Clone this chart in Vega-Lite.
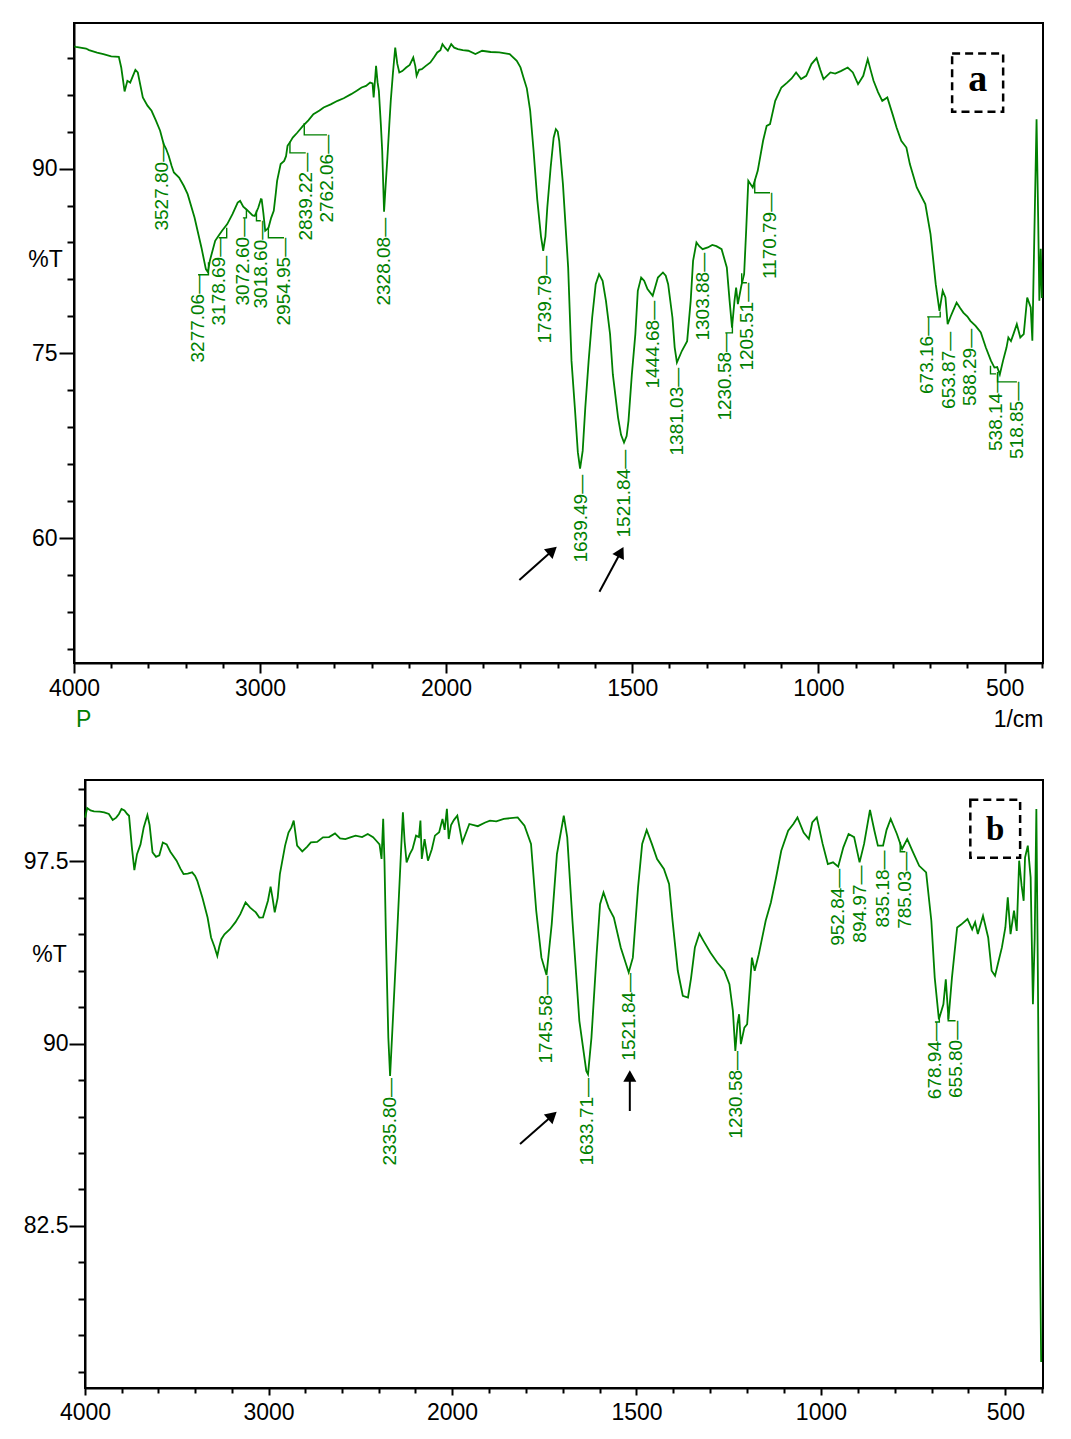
{
  "$schema": "https://vega.github.io/schema/vega-lite/v6.json",
  "padding": {"left": 22, "top": 22, "right": 5, "bottom": 5},
  "spacing": 43,
  "config": {
    "view": {"stroke": "black", "strokeWidth": 2},
    "font": "Liberation Sans",
    "axis": {
      "grid": false,
      "domainColor": "black", "domainWidth": 2,
      "tickColor": "black", "tickWidth": 2, "tickCount": 200,
      "labelColor": "black", "labelFont": "Liberation Sans", "labelFontSize": 23,
      "titleColor": "black", "titleFont": "Liberation Sans", "titleFontSize": 23, "titleFontWeight": "normal",
      "labelOverlap": false, "labelFlush": false, "labelBound": false
    }
  },
  "datasets": {
    "specA": [
      {"wn":3998,"t":99.9},{"wn":3990,"t":99.87},{"wn":3935,"t":99.73},{"wn":3919,"t":99.6},{"wn":3876,"t":99.4},{"wn":3842,"t":99.28},{"wn":3800,"t":99.1},{"wn":3759,"t":99.06},{"wn":3746,"t":98.19},{"wn":3728,"t":96.25},{"wn":3713,"t":97.11},{"wn":3698,"t":96.97},{"wn":3670,"t":98.0},{"wn":3657,"t":97.79},{"wn":3630,"t":95.76},{"wn":3605,"t":95.1},{"wn":3583,"t":94.68},{"wn":3560,"t":93.9},{"wn":3537,"t":93.06},{"wn":3518,"t":91.98},{"wn":3505,"t":91.6},{"wn":3491,"t":91.03},{"wn":3475,"t":90.2},{"wn":3463,"t":89.68},{"wn":3435,"t":89.27},{"wn":3410,"t":88.6},{"wn":3389,"t":87.92},{"wn":3352,"t":86.03},{"wn":3315,"t":83.6},{"wn":3291,"t":81.84},{"wn":3280,"t":81.6},{"wn":3270,"t":82.5},{"wn":3241,"t":84.14},{"wn":3220,"t":84.6},{"wn":3204,"t":84.95},{"wn":3176,"t":85.49},{"wn":3148,"t":86.3},{"wn":3120,"t":87.24},{"wn":3107,"t":87.38},{"wn":3090,"t":86.9},{"wn":3074,"t":86.7},{"wn":3055,"t":86.43},{"wn":3040,"t":86.2},{"wn":3028,"t":86.16},{"wn":3009,"t":86.84},{"wn":2995,"t":87.52},{"wn":2991,"t":87.5},{"wn":2982,"t":86.4},{"wn":2972,"t":84.95},{"wn":2960,"t":85.1},{"wn":2954,"t":85.21},{"wn":2940,"t":86.0},{"wn":2926,"t":86.57},{"wn":2915,"t":88.0},{"wn":2908,"t":89.0},{"wn":2889,"t":90.36},{"wn":2870,"t":90.62},{"wn":2860,"t":91.0},{"wn":2852,"t":91.84},{"wn":2840,"t":92.1},{"wn":2824,"t":92.51},{"wn":2800,"t":92.9},{"wn":2769,"t":93.46},{"wn":2740,"t":93.9},{"wn":2713,"t":94.41},{"wn":2680,"t":94.7},{"wn":2658,"t":94.95},{"wn":2620,"t":95.2},{"wn":2583,"t":95.49},{"wn":2550,"t":95.7},{"wn":2510,"t":96.03},{"wn":2480,"t":96.3},{"wn":2454,"t":96.57},{"wn":2430,"t":96.7},{"wn":2408,"t":96.97},{"wn":2395,"t":96.9},{"wn":2389,"t":95.76},{"wn":2380,"t":97.5},{"wn":2376,"t":98.33},{"wn":2368,"t":97.0},{"wn":2361,"t":96.3},{"wn":2350,"t":93.5},{"wn":2343,"t":91.44},{"wn":2333,"t":86.5},{"wn":2325,"t":88.5},{"wn":2315,"t":90.89},{"wn":2305,"t":93.5},{"wn":2297,"t":95.49},{"wn":2285,"t":97.8},{"wn":2273,"t":99.81},{"wn":2262,"t":98.5},{"wn":2251,"t":97.79},{"wn":2235,"t":97.9},{"wn":2214,"t":98.19},{"wn":2195,"t":98.4},{"wn":2176,"t":99.0},{"wn":2165,"t":98.3},{"wn":2158,"t":97.52},{"wn":2145,"t":98.0},{"wn":2130,"t":98.06},{"wn":2110,"t":98.3},{"wn":2084,"t":98.6},{"wn":2065,"t":99.0},{"wn":2047,"t":99.41},{"wn":2030,"t":99.6},{"wn":2019,"t":100.09},{"wn":2005,"t":99.8},{"wn":1995,"t":99.55},{"wn":1986,"t":100.09},{"wn":1978,"t":99.8},{"wn":1968,"t":99.68},{"wn":1955,"t":99.6},{"wn":1940,"t":99.55},{"wn":1921,"t":99.28},{"wn":1903,"t":99.55},{"wn":1880,"t":99.45},{"wn":1857,"t":99.41},{"wn":1829,"t":99.28},{"wn":1810,"t":98.73},{"wn":1800,"t":98.2},{"wn":1792,"t":97.38},{"wn":1783,"t":96.5},{"wn":1774,"t":94.7},{"wn":1765,"t":91.5},{"wn":1755,"t":87.5},{"wn":1745,"t":84.5},{"wn":1739,"t":83.33},{"wn":1733,"t":84.5},{"wn":1728,"t":86.84},{"wn":1719,"t":90.08},{"wn":1711,"t":92.5},{"wn":1705,"t":93.19},{"wn":1700,"t":93.0},{"wn":1696,"t":92.25},{"wn":1686,"t":88.73},{"wn":1672,"t":81.97},{"wn":1663,"t":74.4},{"wn":1654,"t":70.6},{"wn":1646,"t":67.0},{"wn":1640,"t":65.67},{"wn":1633,"t":67.1},{"wn":1626,"t":70.6},{"wn":1617,"t":74.4},{"wn":1607.5,"t":77.92},{"wn":1598,"t":80.62},{"wn":1589,"t":81.43},{"wn":1579.5,"t":80.89},{"wn":1570.5,"t":79.27},{"wn":1559.5,"t":76.57},{"wn":1552,"t":73.3},{"wn":1538,"t":69.8},{"wn":1530,"t":68.4},{"wn":1522,"t":67.78},{"wn":1515,"t":68.3},{"wn":1510,"t":69.54},{"wn":1501,"t":73.3},{"wn":1491.6,"t":76.57},{"wn":1485,"t":80.08},{"wn":1476,"t":81.16},{"wn":1468,"t":80.9},{"wn":1459,"t":80.22},{"wn":1445,"t":79.68},{"wn":1431,"t":81.16},{"wn":1417.5,"t":81.57},{"wn":1410,"t":81.3},{"wn":1403.5,"t":80.62},{"wn":1392,"t":77.92},{"wn":1386,"t":75.5},{"wn":1380,"t":74.27},{"wn":1366.5,"t":75.22},{"wn":1352.5,"t":76.0},{"wn":1343,"t":79.27},{"wn":1336.6,"t":82.51},{"wn":1327.5,"t":84.0},{"wn":1320,"t":83.7},{"wn":1311,"t":83.46},{"wn":1297,"t":83.6},{"wn":1285,"t":83.8},{"wn":1274,"t":83.7},{"wn":1260,"t":83.46},{"wn":1246,"t":81.97},{"wn":1238.5,"t":79.27},{"wn":1232,"t":77.1},{"wn":1225.4,"t":79.27},{"wn":1221,"t":80.35},{"wn":1216.3,"t":79.0},{"wn":1207,"t":80.49},{"wn":1199.5,"t":81.43},{"wn":1194,"t":85.0},{"wn":1188.3,"t":89.0},{"wn":1176.4,"t":88.46},{"wn":1163,"t":89.81},{"wn":1148.6,"t":92.25},{"wn":1139,"t":93.46},{"wn":1130,"t":93.6},{"wn":1116,"t":95.49},{"wn":1099.4,"t":96.57},{"wn":1084,"t":96.97},{"wn":1072,"t":97.3},{"wn":1060,"t":97.79},{"wn":1046.5,"t":97.25},{"wn":1032.7,"t":97.52},{"wn":1018.8,"t":98.47},{"wn":1005,"t":98.95},{"wn":995,"t":98.0},{"wn":986.3,"t":97.25},{"wn":967.8,"t":97.79},{"wn":955,"t":97.7},{"wn":940,"t":97.9},{"wn":921.3,"t":98.19},{"wn":907.6,"t":97.79},{"wn":893.6,"t":96.84},{"wn":879.6,"t":97.52},{"wn":867.6,"t":98.87},{"wn":860,"t":98.0},{"wn":852,"t":97.11},{"wn":840,"t":96.2},{"wn":828.6,"t":95.49},{"wn":815,"t":95.76},{"wn":801,"t":94.41},{"wn":790,"t":93.3},{"wn":777.6,"t":92.25},{"wn":763.8,"t":91.7},{"wn":754.5,"t":90.36},{"wn":736,"t":88.46},{"wn":713,"t":87.11},{"wn":699,"t":84.68},{"wn":685,"t":80.62},{"wn":675,"t":78.46},{"wn":666.3,"t":80.08},{"wn":659,"t":79.54},{"wn":653,"t":77.38},{"wn":645,"t":78.0},{"wn":638.6,"t":78.46},{"wn":629,"t":79.13},{"wn":620,"t":78.7},{"wn":611,"t":78.32},{"wn":600,"t":78.0},{"wn":592,"t":77.65},{"wn":578,"t":77.24},{"wn":564,"t":76.7},{"wn":550.5,"t":75.48},{"wn":536.6,"t":74.4},{"wn":527.4,"t":73.86},{"wn":520,"t":73.9},{"wn":513,"t":73.3},{"wn":504.4,"t":74.4},{"wn":495,"t":75.48},{"wn":490,"t":76.3},{"wn":483,"t":76.0},{"wn":476.4,"t":76.57},{"wn":467.3,"t":77.38},{"wn":458,"t":76.3},{"wn":448.7,"t":76.57},{"wn":439.4,"t":79.54},{"wn":430,"t":78.73},{"wn":425.6,"t":76.03},{"wn":420,"t":85.0},{"wn":414.3,"t":94.0},{"wn":410,"t":86.0},{"wn":406.8,"t":79.27},{"wn":403,"t":83.5},{"wn":400,"t":79.5}
    ],
    "specB": [
      {"wn":3999,"t":99.3},{"wn":3995,"t":99.46},{"wn":3988,"t":99.7},{"wn":3970,"t":99.6},{"wn":3951,"t":99.56},{"wn":3920,"t":99.55},{"wn":3895,"t":99.52},{"wn":3870,"t":99.45},{"wn":3849,"t":99.2},{"wn":3830,"t":99.3},{"wn":3815,"t":99.45},{"wn":3801,"t":99.66},{"wn":3785,"t":99.6},{"wn":3770,"t":99.45},{"wn":3760,"t":99.38},{"wn":3744.6,"t":98.08},{"wn":3731,"t":97.14},{"wn":3716.6,"t":97.8},{"wn":3697.5,"t":98.2},{"wn":3680,"t":98.9},{"wn":3660,"t":99.41},{"wn":3648,"t":99.0},{"wn":3632,"t":97.87},{"wn":3613,"t":97.69},{"wn":3595,"t":97.75},{"wn":3576,"t":98.28},{"wn":3555,"t":98.2},{"wn":3535,"t":97.9},{"wn":3501,"t":97.53},{"wn":3480,"t":97.2},{"wn":3463,"t":96.98},{"wn":3440,"t":97.0},{"wn":3416,"t":97.05},{"wn":3400,"t":96.9},{"wn":3388,"t":96.7},{"wn":3360,"t":96.0},{"wn":3332,"t":95.19},{"wn":3313,"t":94.37},{"wn":3295,"t":94.0},{"wn":3279,"t":93.61},{"wn":3268,"t":94.0},{"wn":3257,"t":94.3},{"wn":3240,"t":94.5},{"wn":3210,"t":94.71},{"wn":3180,"t":95.0},{"wn":3153.6,"t":95.33},{"wn":3125,"t":95.81},{"wn":3100,"t":95.6},{"wn":3069,"t":95.4},{"wn":3050,"t":95.19},{"wn":3030,"t":95.2},{"wn":3003,"t":95.88},{"wn":2988.6,"t":96.46},{"wn":2978,"t":96.0},{"wn":2966,"t":95.4},{"wn":2950,"t":96.0},{"wn":2938,"t":96.98},{"wn":2909.6,"t":98.15},{"wn":2891,"t":98.69},{"wn":2875,"t":98.9},{"wn":2862.6,"t":99.18},{"wn":2844,"t":98.15},{"wn":2816,"t":97.91},{"wn":2790,"t":98.1},{"wn":2769,"t":98.28},{"wn":2735,"t":98.3},{"wn":2703,"t":98.49},{"wn":2670,"t":98.5},{"wn":2637.6,"t":98.65},{"wn":2610,"t":98.45},{"wn":2581,"t":98.42},{"wn":2550,"t":98.5},{"wn":2525,"t":98.56},{"wn":2490,"t":98.5},{"wn":2459,"t":98.63},{"wn":2430,"t":98.5},{"wn":2412.5,"t":98.35},{"wn":2395,"t":98.2},{"wn":2384,"t":97.6},{"wn":2375,"t":99.25},{"wn":2368,"t":97.5},{"wn":2360,"t":94.37},{"wn":2347,"t":90.25},{"wn":2337.4,"t":88.67},{"wn":2318,"t":91.62},{"wn":2300,"t":94.37},{"wn":2281,"t":97.39},{"wn":2267.6,"t":99.52},{"wn":2258,"t":98.3},{"wn":2247.4,"t":97.46},{"wn":2230,"t":97.8},{"wn":2215,"t":98.01},{"wn":2196,"t":98.56},{"wn":2180,"t":98.5},{"wn":2172,"t":99.18},{"wn":2164.6,"t":97.6},{"wn":2149.4,"t":98.42},{"wn":2131,"t":97.53},{"wn":2110,"t":98.0},{"wn":2093,"t":98.56},{"wn":2070,"t":98.7},{"wn":2051.8,"t":99.25},{"wn":2040,"t":98.8},{"wn":2027.8,"t":99.66},{"wn":2018,"t":98.42},{"wn":2005,"t":99.0},{"wn":1995,"t":99.2},{"wn":1985.6,"t":99.38},{"wn":1972,"t":98.28},{"wn":1953,"t":99.04},{"wn":1930,"t":98.95},{"wn":1910,"t":99.1},{"wn":1897,"t":99.18},{"wn":1880,"t":99.15},{"wn":1859.5,"t":99.25},{"wn":1822,"t":99.31},{"wn":1803.5,"t":98.97},{"wn":1785.8,"t":98.22},{"wn":1771.7,"t":95.47},{"wn":1757.6,"t":93.54},{"wn":1743.8,"t":92.83},{"wn":1729.7,"t":94.92},{"wn":1715.6,"t":97.8},{"wn":1697,"t":99.38},{"wn":1687.6,"t":98.49},{"wn":1673.5,"t":95.06},{"wn":1654.8,"t":90.94},{"wn":1636,"t":88.88},{"wn":1631.3,"t":88.74},{"wn":1622,"t":90.25},{"wn":1608,"t":93.68},{"wn":1598.7,"t":95.74},{"wn":1589.3,"t":96.22},{"wn":1575.4,"t":95.6},{"wn":1561.3,"t":95.19},{"wn":1542.6,"t":93.96},{"wn":1521,"t":92.93},{"wn":1509.8,"t":93.54},{"wn":1495.7,"t":96.43},{"wn":1484.5,"t":98.22},{"wn":1472.3,"t":98.79},{"wn":1458.3,"t":98.22},{"wn":1444.1,"t":97.6},{"wn":1425.6,"t":97.19},{"wn":1411.6,"t":96.57},{"wn":1402.2,"t":95.06},{"wn":1388,"t":93.0},{"wn":1374.4,"t":91.97},{"wn":1360.3,"t":91.9},{"wn":1352,"t":92.7},{"wn":1341.6,"t":93.96},{"wn":1329.4,"t":94.53},{"wn":1318.3,"t":94.23},{"wn":1299.7,"t":93.75},{"wn":1281,"t":93.34},{"wn":1262,"t":93.0},{"wn":1248,"t":92.45},{"wn":1238.6,"t":91.35},{"wn":1232,"t":89.7},{"wn":1226.2,"t":90.8},{"wn":1221.8,"t":91.21},{"wn":1217,"t":89.98},{"wn":1207.5,"t":90.66},{"wn":1200,"t":90.8},{"wn":1187,"t":93.54},{"wn":1179.5,"t":93.0},{"wn":1168.4,"t":93.68},{"wn":1149.7,"t":95.06},{"wn":1135.6,"t":95.81},{"wn":1121.5,"t":96.84},{"wn":1107.5,"t":97.94},{"wn":1088.8,"t":98.76},{"wn":1074.7,"t":99.04},{"wn":1063.6,"t":99.31},{"wn":1046.8,"t":98.69},{"wn":1032.7,"t":98.42},{"wn":1023.4,"t":99.1},{"wn":1011.2,"t":99.31},{"wn":995.3,"t":98.22},{"wn":981.2,"t":97.39},{"wn":967.2,"t":97.46},{"wn":953.2,"t":97.28},{"wn":939.2,"t":98.08},{"wn":925,"t":98.63},{"wn":910,"t":98.5},{"wn":895.2,"t":97.46},{"wn":883,"t":98.22},{"wn":867,"t":99.62},{"wn":855,"t":98.76},{"wn":845.6,"t":98.15},{"wn":831.5,"t":98.15},{"wn":822,"t":98.8},{"wn":810.9,"t":99.25},{"wn":794,"t":98.63},{"wn":780,"t":98.01},{"wn":766,"t":98.42},{"wn":752.3,"t":97.94},{"wn":733.6,"t":97.32},{"wn":714.8,"t":97.05},{"wn":700.7,"t":95.06},{"wn":691.5,"t":92.72},{"wn":680.2,"t":91.0},{"wn":668,"t":91.62},{"wn":661.5,"t":92.65},{"wn":654.2,"t":91.0},{"wn":644.8,"t":92.72},{"wn":630.7,"t":94.78},{"wn":620,"t":94.9},{"wn":602.7,"t":95.13},{"wn":590,"t":94.7},{"wn":582,"t":95.0},{"wn":574.6,"t":94.51},{"wn":560.6,"t":95.26},{"wn":546.6,"t":94.37},{"wn":537.2,"t":93.0},{"wn":528,"t":92.79},{"wn":520,"t":93.3},{"wn":509.4,"t":93.96},{"wn":500,"t":94.78},{"wn":493.5,"t":96.02},{"wn":486,"t":94.51},{"wn":476.6,"t":95.47},{"wn":469.2,"t":94.64},{"wn":462.6,"t":97.53},{"wn":456,"t":96.5},{"wn":450.4,"t":95.88},{"wn":446.7,"t":97.66},{"wn":439.2,"t":98.15},{"wn":431.5,"t":96.84},{"wn":425.3,"t":91.62},{"wn":420.5,"t":94.37},{"wn":416,"t":99.66},{"wn":412,"t":93.0},{"wn":408,"t":85.0},{"wn":405,"t":80.0},{"wn":403,"t":76.9}
    ],
    "peaksA": [
      {"label":"3527.80","lx":3527,"ly":92.08},{"label":"3277.06","lx":3333,"ly":81.38},{"label":"3178.69","lx":3222,"ly":84.38},{"label":"3072.60","lx":3092,"ly":86.0},{"label":"3018.60","lx":2996,"ly":85.76},{"label":"2954.95","lx":2871,"ly":84.38},{"label":"2839.22","lx":2754,"ly":91.27},{"label":"2762.06","lx":2640,"ly":92.73},{"label":"2328.08","lx":2333,"ly":86.0},{"label":"1739.79","lx":1733,"ly":82.92},{"label":"1639.49","lx":1637,"ly":65.16},{"label":"1521.84","lx":1522,"ly":67.19},{"label":"1444.68","lx":1445,"ly":79.27},{"label":"1381.03","lx":1380,"ly":73.84},{"label":"1303.88","lx":1311,"ly":83.16},{"label":"1230.58","lx":1250,"ly":76.67},{"label":"1205.51","lx":1192,"ly":80.73},{"label":"1170.79","lx":1130,"ly":88.03},{"label":"673.16","lx":708,"ly":77.97},{"label":"653.87","lx":649,"ly":76.76},{"label":"588.29","lx":592,"ly":77.0},{"label":"538.14","lx":523,"ly":73.35},{"label":"518.85","lx":467,"ly":72.7}
    ],
    "hooksA": [
      {"id":"3277.06","o":1,"wn":3333,"t":81.38},{"id":"3277.06","o":2,"wn":3277,"t":81.38},{"id":"3277.06","o":3,"wn":3277,"t":82.4},
      {"id":"3178.69","o":1,"wn":3222,"t":84.38},{"id":"3178.69","o":2,"wn":3179,"t":84.38},{"id":"3178.69","o":3,"wn":3179,"t":85.2},
      {"id":"3072.60","o":1,"wn":3092,"t":86.0},{"id":"3072.60","o":2,"wn":3073,"t":86.0},{"id":"3072.60","o":3,"wn":3073,"t":86.7},
      {"id":"3018.60","o":1,"wn":2996,"t":85.76},{"id":"3018.60","o":2,"wn":3019,"t":85.76},{"id":"3018.60","o":3,"wn":3019,"t":86.6},
      {"id":"2954.95","o":1,"wn":2871,"t":84.38},{"id":"2954.95","o":2,"wn":2955,"t":84.38},{"id":"2954.95","o":3,"wn":2955,"t":85.2},
      {"id":"2839.22","o":1,"wn":2754,"t":91.27},{"id":"2839.22","o":2,"wn":2839,"t":91.27},{"id":"2839.22","o":3,"wn":2839,"t":92.2},
      {"id":"2762.06","o":1,"wn":2640,"t":92.73},{"id":"2762.06","o":2,"wn":2762,"t":92.73},{"id":"2762.06","o":3,"wn":2762,"t":93.7},
      {"id":"1230.58","o":1,"wn":1250,"t":76.67},{"id":"1230.58","o":2,"wn":1231,"t":76.67},{"id":"1230.58","o":3,"wn":1231,"t":77.3},
      {"id":"1205.51","o":1,"wn":1192,"t":80.73},{"id":"1205.51","o":2,"wn":1206,"t":80.73},{"id":"1205.51","o":3,"wn":1206,"t":81.5},
      {"id":"1170.79","o":1,"wn":1130,"t":88.03},{"id":"1170.79","o":2,"wn":1171,"t":88.03},{"id":"1170.79","o":3,"wn":1171,"t":89.1},
      {"id":"673.16","o":1,"wn":708,"t":77.97},{"id":"673.16","o":2,"wn":673,"t":77.97},{"id":"673.16","o":3,"wn":673,"t":78.4},
      {"id":"538.14","o":1,"wn":523,"t":73.35},{"id":"538.14","o":2,"wn":538,"t":73.35},{"id":"538.14","o":3,"wn":538,"t":74.0},
      {"id":"518.85","o":1,"wn":467,"t":72.7},{"id":"518.85","o":2,"wn":519,"t":72.7},{"id":"518.85","o":3,"wn":519,"t":73.5}
    ],
    "peaksB": [
      {"label":"2335.80","lx":2338,"ly":88.59},{"label":"1745.58","lx":1744,"ly":92.79},{"label":"1633.71","lx":1633,"ly":88.59},{"label":"1521.84","lx":1521,"ly":92.91},{"label":"1230.58","lx":1229,"ly":89.7},{"label":"952.84","lx":953,"ly":97.2},{"label":"894.97","lx":895,"ly":97.33},{"label":"835.18","lx":831,"ly":97.95},{"label":"785.03","lx":771,"ly":97.9},{"label":"678.94","lx":691,"ly":90.89},{"label":"655.80","lx":635,"ly":90.94}
    ],
    "hooksB": [
      {"id":"785.03","o":1,"wn":771,"t":97.9},{"id":"785.03","o":2,"wn":785,"t":97.9},{"id":"785.03","o":3,"wn":785,"t":98.3},
      {"id":"678.94","o":1,"wn":691,"t":90.89},{"id":"678.94","o":2,"wn":679,"t":90.89},{"id":"678.94","o":3,"wn":679,"t":91.2},
      {"id":"655.80","o":1,"wn":635,"t":90.94},{"id":"655.80","o":2,"wn":655,"t":90.94},{"id":"655.80","o":3,"wn":655,"t":91.2}
    ],
    "arrowsA": [
      {"x1":1803,"y1":56.64,"x2":1714,"y2":59.03,"ang":48.7},
      {"x1":1588,"y1":55.67,"x2":1530.6,"y2":58.9,"ang":28.2}
    ],
    "arrowsB": [
      {"x1":1815.6,"y1":85.87,"x2":1727.8,"y2":87.04,"ang":48.8},
      {"x1":1518,"y1":87.23,"x2":1518,"y2":88.67,"ang":0}
    ],
    "boxA": [{"x1":641,"x2":504,"y1":94.6,"y2":99.33,"tag":"a"}],
    "boxB": [{"x1":595,"x2":460,"y1":97.65,"y2":100.04,"tag":"b"}]
  },
  "vconcat": [
    {
      "width": 969,
      "height": 640,
      "title": {"text": "P", "orient": "bottom", "anchor": "start", "frame": "group", "color": "#008000", "font": "Liberation Sans", "fontSize": 23, "fontWeight": "normal", "offset": -22, "dx": 2},
      "layer": [
        {
          "data": {"name": "specA"},
          "mark": {"type": "line", "color": "#008000", "strokeWidth": 1.8},
          "encoding": {
            "x": {"field": "wn", "type": "quantitative",
              "scale": {"domain": [4000, 2000, 397], "range": [0, 372, 969], "nice": false, "zero": false},
              "axis": {
                "title": "1/cm", "titleX": 969, "titleY": 63, "titleAlign": "right", "titleBaseline": "alphabetic", "titleAnchor": null,
                "values": [4000,3800,3600,3400,3200,3000,2800,2600,2400,2200,2000,1900,1800,1700,1600,1500,1400,1300,1200,1100,1000,900,800,700,600,500,400],
                "labelExpr": "indexof([4000,3000,2000,1500,1000,500], datum.value) >= 0 ? '' + datum.value : ''",
                "tickSize": {"condition": {"test": "indexof([4000,3000,2000,1500,1000,500], datum.value) >= 0", "value": 10}, "value": 5},
                "labelPadding": 4
              }
            },
            "y": {"field": "t", "type": "quantitative",
              "scale": {"domain": [49.9, 101.8], "nice": false, "zero": false},
              "axis": {
                "title": "%T", "titleAngle": 0, "titleX": -29, "titleY": 236, "titleAlign": "center", "titleBaseline": "middle", "titleAnchor": null,
                "values": [51,54,57,60,63,66,69,72,75,78,81,84,87,90,93,96,99],
                "labelExpr": "datum.value % 15 === 0 ? '' + datum.value : ''",
                "tickSize": {"condition": {"test": "datum.value % 15 === 0", "value": 15}, "value": 7},
                "labelPadding": 2
              }
            }
          }
        },
        {
          "data": {"name": "hooksA"},
          "mark": {"type": "line", "color": "#008000", "strokeWidth": 1.4},
          "encoding": {
            "x": {"field": "wn", "type": "quantitative"},
            "y": {"field": "t", "type": "quantitative"},
            "detail": {"field": "id"},
            "order": {"field": "o"}
          }
        },
        {
          "data": {"name": "peaksA"},
          "transform": [{"calculate": "datum.label + '\u2014'", "as": "tagText"}],
          "mark": {"type": "text", "angle": 270, "align": "right", "baseline": "middle", "color": "#008000", "font": "Liberation Sans", "fontSize": 19},
          "encoding": {
            "x": {"field": "lx", "type": "quantitative"},
            "y": {"field": "ly", "type": "quantitative"},
            "text": {"field": "tagText"}
          }
        },
        {
          "data": {"name": "arrowsA"},
          "mark": {"type": "rule", "color": "black", "strokeWidth": 2},
          "encoding": {
            "x": {"field": "x1", "type": "quantitative"},
            "y": {"field": "y1", "type": "quantitative"},
            "x2": {"field": "x2"},
            "y2": {"field": "y2"}
          }
        },
        {
          "data": {"name": "arrowsA"},
          "mark": {"type": "point", "shape": "triangle-up", "filled": true, "color": "black", "opacity": 1, "size": 170},
          "encoding": {
            "x": {"field": "x2", "type": "quantitative"},
            "y": {"field": "y2", "type": "quantitative"},
            "angle": {"field": "ang", "type": "quantitative", "scale": null}
          }
        },
        {
          "data": {"name": "boxA"},
          "mark": {"type": "rect", "fillOpacity": 0, "stroke": "black", "strokeWidth": 2.5, "strokeDash": [8, 5]},
          "encoding": {
            "x": {"field": "x1", "type": "quantitative"},
            "x2": {"field": "x2"},
            "y": {"field": "y1", "type": "quantitative"},
            "y2": {"field": "y2"}
          }
        },
        {
          "data": {"name": "boxA"},
          "transform": [{"calculate": "(datum.x1 + datum.x2) / 2", "as": "xc"}, {"calculate": "(datum.y1 + datum.y2) / 2", "as": "yc"}],
          "mark": {"type": "text", "font": "Liberation Serif", "fontWeight": "bold", "fontSize": 38, "align": "center", "baseline": "middle", "color": "black", "dy": -3},
          "encoding": {
            "x": {"field": "xc", "type": "quantitative"},
            "y": {"field": "yc", "type": "quantitative"},
            "text": {"field": "tag"}
          }
        }
      ]
    },
    {
      "spacing": -53,
      "hconcat": [
        {
          "width": 1,
          "height": 1,
          "view": {"stroke": null},
          "data": {"values": []},
          "mark": "point"
        },
        {
          "width": 958,
          "height": 608,
          "layer": [
            {
              "data": {"name": "specB"},
              "mark": {"type": "line", "color": "#008000", "strokeWidth": 1.8},
              "encoding": {
                "x": {"field": "wn", "type": "quantitative",
                  "scale": {"domain": [4000, 2000, 398], "range": [0, 367, 958], "nice": false, "zero": false},
                  "axis": {
                    "title": null,
                    "values": [4000,3800,3600,3400,3200,3000,2800,2600,2400,2200,2000,1900,1800,1700,1600,1500,1400,1300,1200,1100,1000,900,800,700,600,500,400],
                    "labelExpr": "indexof([4000,3000,2000,1500,1000,500], datum.value) >= 0 ? '' + datum.value : ''",
                    "tickSize": {"condition": {"test": "indexof([4000,3000,2000,1500,1000,500], datum.value) >= 0", "value": 7}, "value": 5},
                    "labelPadding": 6
                  }
                },
                "y": {"field": "t", "type": "quantitative",
                  "scale": {"domain": [75.83, 100.85], "nice": false, "zero": false},
                  "axis": {
                    "title": "%T", "titleAngle": 0, "titleX": -36, "titleY": 174, "titleAlign": "center", "titleBaseline": "middle", "titleAnchor": null,
                    "values": [76.5,78,79.5,81,82.5,84,85.5,87,88.5,90,91.5,93,94.5,96,97.5,99,100.5],
                    "labelExpr": "indexof([82.5,90,97.5], datum.value) >= 0 ? '' + datum.value : ''",
                    "tickSize": {"condition": {"test": "indexof([82.5,90,97.5], datum.value) >= 0", "value": 16}, "value": 7},
                    "labelPadding": 1
                  }
                }
              }
            },
            {
              "data": {"name": "hooksB"},
              "mark": {"type": "line", "color": "#008000", "strokeWidth": 1.4},
              "encoding": {
                "x": {"field": "wn", "type": "quantitative"},
                "y": {"field": "t", "type": "quantitative"},
                "detail": {"field": "id"},
                "order": {"field": "o"}
              }
            },
            {
              "data": {"name": "peaksB"},
              "transform": [{"calculate": "datum.label + '\u2014'", "as": "tagText"}],
              "mark": {"type": "text", "angle": 270, "align": "right", "baseline": "middle", "color": "#008000", "font": "Liberation Sans", "fontSize": 19},
              "encoding": {
                "x": {"field": "lx", "type": "quantitative"},
                "y": {"field": "ly", "type": "quantitative"},
                "text": {"field": "tagText"}
              }
            },
            {
              "data": {"name": "arrowsB"},
              "mark": {"type": "rule", "color": "black", "strokeWidth": 2},
              "encoding": {
                "x": {"field": "x1", "type": "quantitative"},
                "y": {"field": "y1", "type": "quantitative"},
                "x2": {"field": "x2"},
                "y2": {"field": "y2"}
              }
            },
            {
              "data": {"name": "arrowsB"},
              "mark": {"type": "point", "shape": "triangle-up", "filled": true, "color": "black", "opacity": 1, "size": 170},
              "encoding": {
                "x": {"field": "x2", "type": "quantitative"},
                "y": {"field": "y2", "type": "quantitative"},
                "angle": {"field": "ang", "type": "quantitative", "scale": null}
              }
            },
            {
              "data": {"name": "boxB"},
              "mark": {"type": "rect", "fillOpacity": 0, "stroke": "black", "strokeWidth": 2.5, "strokeDash": [8, 5]},
              "encoding": {
                "x": {"field": "x1", "type": "quantitative"},
                "x2": {"field": "x2"},
                "y": {"field": "y1", "type": "quantitative"},
                "y2": {"field": "y2"}
              }
            },
            {
              "data": {"name": "boxB"},
              "transform": [{"calculate": "(datum.x1 + datum.x2) / 2", "as": "xc"}, {"calculate": "(datum.y1 + datum.y2) / 2", "as": "yc"}],
              "mark": {"type": "text", "font": "Liberation Serif", "fontWeight": "bold", "fontSize": 33, "align": "center", "baseline": "middle", "color": "black", "dy": 1},
              "encoding": {
                "x": {"field": "xc", "type": "quantitative"},
                "y": {"field": "yc", "type": "quantitative"},
                "text": {"field": "tag"}
              }
            }
          ]
        }
      ]
    }
  ]
}
